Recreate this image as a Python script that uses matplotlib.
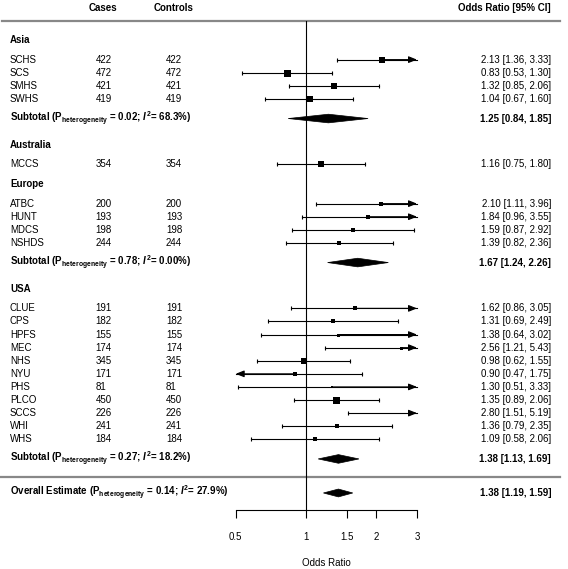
import numpy as np
import matplotlib
matplotlib.use("Agg")
import matplotlib.pyplot as plt
from matplotlib.transforms import blended_transform_factory
from matplotlib.patches import Polygon
from matplotlib.ticker import NullLocator

plt.rcParams['font.family'] = ['Liberation Sans', 'DejaVu Sans']
plt.rcParams['mathtext.fontset'] = 'custom'
plt.rcParams['mathtext.rm'] = 'Liberation Sans:bold'
plt.rcParams['mathtext.it'] = 'Liberation Sans:italic:bold'
plt.rcParams['mathtext.bf'] = 'Liberation Sans:bold'

# study level data
studies = ["SCHS", "SCS", "SMHS", "SWHS",
           "MCCS",
           "ATBC", "HUNT", "MDCS", "NSHDS",
           "CLUE", "CPS", "HPFS", "MEC", "NHS", "NYU", "PHS", "PLCO", "SCCS", "WHI", "WHS"]
study_region = ["Asia"] * 4 + ["Australia"] + ["Europe"] * 4 + ["USA"] * 11
cases = [422, 472, 421, 419, 354, 200, 193, 198, 244,
         191, 182, 155, 174, 345, 171, 81, 450, 226, 241, 184]
controls = [422, 472, 421, 419, 354, 200, 193, 198, 244,
            191, 182, 155, 174, 345, 171, 81, 450, 226, 241, 184]
odds = [2.13, 0.83, 1.32, 1.04, 1.16, 2.10, 1.84, 1.59, 1.39,
        1.62, 1.31, 1.38, 2.56, 0.98, 0.90, 1.30, 1.35, 2.80, 1.36, 1.09]
ci_low = [1.36, 0.53, 0.85, 0.67, 0.75, 1.11, 0.96, 0.87, 0.82,
          0.86, 0.69, 0.64, 1.21, 0.62, 0.47, 0.51, 0.89, 1.51, 0.79, 0.58]
ci_high = [3.33, 1.30, 2.06, 1.60, 1.80, 3.96, 3.55, 2.92, 2.36,
           3.05, 2.49, 3.02, 5.43, 1.55, 1.75, 3.33, 2.06, 5.19, 2.35, 2.06]
# relative study weights (box area)
weights = [36, 49, 36, 36, 36, 16, 16, 16, 25,
           16, 16, 9, 9, 36, 16, 4, 49, 9, 25, 16]

regions = ["Asia", "Australia", "Europe", "USA"]
sub_regions = ["Asia", "Europe", "USA"]
sub_odds = [1.25, 1.67, 1.38]
sub_low = [0.84, 1.24, 1.13]
sub_high = [1.85, 2.26, 1.69]
sub_phet = ["0.02", "0.78", "0.27"]
sub_i2 = ["68.3", "0.00", "18.2"]

overall_odds = 1.38
overall_low = 1.19
overall_high = 1.59
overall_phet = "0.14"
overall_i2 = "27.9"

ticks = [0.5, 1, 1.5, 2, 3]
tick_labels = ["0.5", "1", "1.5", "2", "3"]

W, H = 568, 569
FS = 7
xmin, xmax = 0.5, 3

fig = plt.figure(figsize=(W / 100, H / 100), dpi=100)
ax = fig.add_axes([235.7 / W, 1 - 510 / H, 181.3 / W, 489 / H])
trans = blended_transform_factory(fig.transFigure, ax.transData)


def fx(px):
    return px / W


# row layout
y = 1.45
region_y = {}
study_y = {}
sub_y = {}
for r in regions:
    region_y[r] = y
    y += 1.5
    for i, s in enumerate(study_region):
        if s == r:
            study_y[i] = y
            y += 1
    y -= 1
    if r in sub_regions:
        y += 1.5
        sub_y[r] = y
        y += 2.0
    else:
        y += 1.5
line_y = sub_y["USA"] + 1.4
overall_y = line_y + 1.2
bottom = overall_y + 1.3

# header
ax.text(fx(103), -1, "Cases", transform=trans, ha='center', va='center', fontsize=FS, fontweight='bold')
ax.text(fx(174), -1, "Controls", transform=trans, ha='center', va='center', fontsize=FS, fontweight='bold')
ax.text(fx(551), -1, "Odds Ratio [95% CI]", transform=trans, ha='right', va='center', fontsize=FS, fontweight='bold')
ax.plot([fx(2), fx(560)], [0, 0], transform=trans, color='#888888', lw=1.6, clip_on=False)
ax.plot([fx(0), fx(560)], [line_y, line_y], transform=trans, color='#888888', lw=1.6, clip_on=False)

for r in regions:
    ax.text(fx(10), region_y[r], r, transform=trans, ha='left', va='center', fontsize=FS, fontweight='bold')

cap_ms = 3
for i in range(len(studies)):
    yy = study_y[i]
    lo, hi = ci_low[i], ci_high[i]
    l = max(lo, xmin)
    h = min(hi, xmax)
    ax.plot([l, h], [yy, yy], color='black', lw=0.8, clip_on=False)
    if lo >= xmin:
        ax.plot(lo, yy, marker='|', ms=cap_ms, mew=0.8, color='black', clip_on=False)
    else:
        ax.annotate('', xy=(xmin, yy), xytext=(odds[i], yy), annotation_clip=False,
                    arrowprops=dict(arrowstyle='-|>,head_length=0.5,head_width=0.2',
                                    mutation_scale=10, color='black', lw=0.8, shrinkA=0, shrinkB=0))
    if hi <= xmax:
        ax.plot(hi, yy, marker='|', ms=cap_ms, mew=0.8, color='black', clip_on=False)
    else:
        ax.annotate('', xy=(xmax, yy), xytext=(odds[i], yy), annotation_clip=False,
                    arrowprops=dict(arrowstyle='-|>,head_length=0.5,head_width=0.2',
                                    mutation_scale=10, color='black', lw=0.8, shrinkA=0, shrinkB=0))
    ax.plot(odds[i], yy, marker='s', ms=0.72 * np.sqrt(weights[i]), color='black',
            mew=0, clip_on=False)
    ax.text(fx(10), yy, studies[i], transform=trans, ha='left', va='center', fontsize=FS)
    ax.text(fx(95.5), yy, str(cases[i]), transform=trans, ha='left', va='center', fontsize=FS)
    ax.text(fx(166), yy, str(controls[i]), transform=trans, ha='left', va='center', fontsize=FS)
    ax.text(fx(551), yy, f"{odds[i]:.2f} [{lo:.2f}, {hi:.2f}]", transform=trans,
            ha='right', va='center', fontsize=FS)


def diamond(est, lo, hi, yy, half=0.33):
    ax.add_patch(Polygon([(lo, yy), (est, yy - half), (hi, yy), (est, yy + half)],
                         closed=True, facecolor='black', edgecolor='black', lw=0.5, clip_on=False))


for k, r in enumerate(sub_regions):
    yy = sub_y[r]
    diamond(sub_odds[k], sub_low[k], sub_high[k], yy)
    ax.text(fx(10), yy, r"Subtotal (P$_{\mathrm{heterogeneity}}$ = " + sub_phet[k] + r"; $I^{2}$= " + sub_i2[k] + "%)",
            transform=trans, ha='left', va='center', fontsize=FS, fontweight='bold')
    ax.text(fx(551), yy, f"{sub_odds[k]:.2f} [{sub_low[k]:.2f}, {sub_high[k]:.2f}]", transform=trans,
            ha='right', va='center', fontsize=FS, fontweight='bold')

diamond(overall_odds, overall_low, overall_high, overall_y, half=0.3)
ax.text(fx(10), overall_y, r"Overall Estimate (P$_{\mathrm{heterogeneity}}$ = " + overall_phet + r"; $I^{2}$= " + overall_i2 + "%)",
        transform=trans, ha='left', va='center', fontsize=FS, fontweight='bold')
ax.text(fx(551), overall_y, f"{overall_odds:.2f} [{overall_low:.2f}, {overall_high:.2f}]", transform=trans,
        ha='right', va='center', fontsize=FS, fontweight='bold')

ax.axvline(1, color='black', lw=0.8)

ax.set_xscale('log')
ax.set_xlim(xmin, xmax)
ax.set_ylim(bottom, 0)
ax.set_xticks(ticks)
ax.set_xticklabels(tick_labels)
ax.xaxis.set_minor_locator(NullLocator())
ax.set_yticks([])
for s in ['left', 'right', 'top']:
    ax.spines[s].set_visible(False)
ax.spines['bottom'].set_linewidth(0.8)
ax.tick_params(axis='x', direction='out', length=6, width=0.8, pad=10, labelsize=FS)
ax.set_xlabel("Odds Ratio", fontsize=FS, labelpad=11)
ax.patch.set_alpha(0)

fig.savefig("out.png", dpi=100)
